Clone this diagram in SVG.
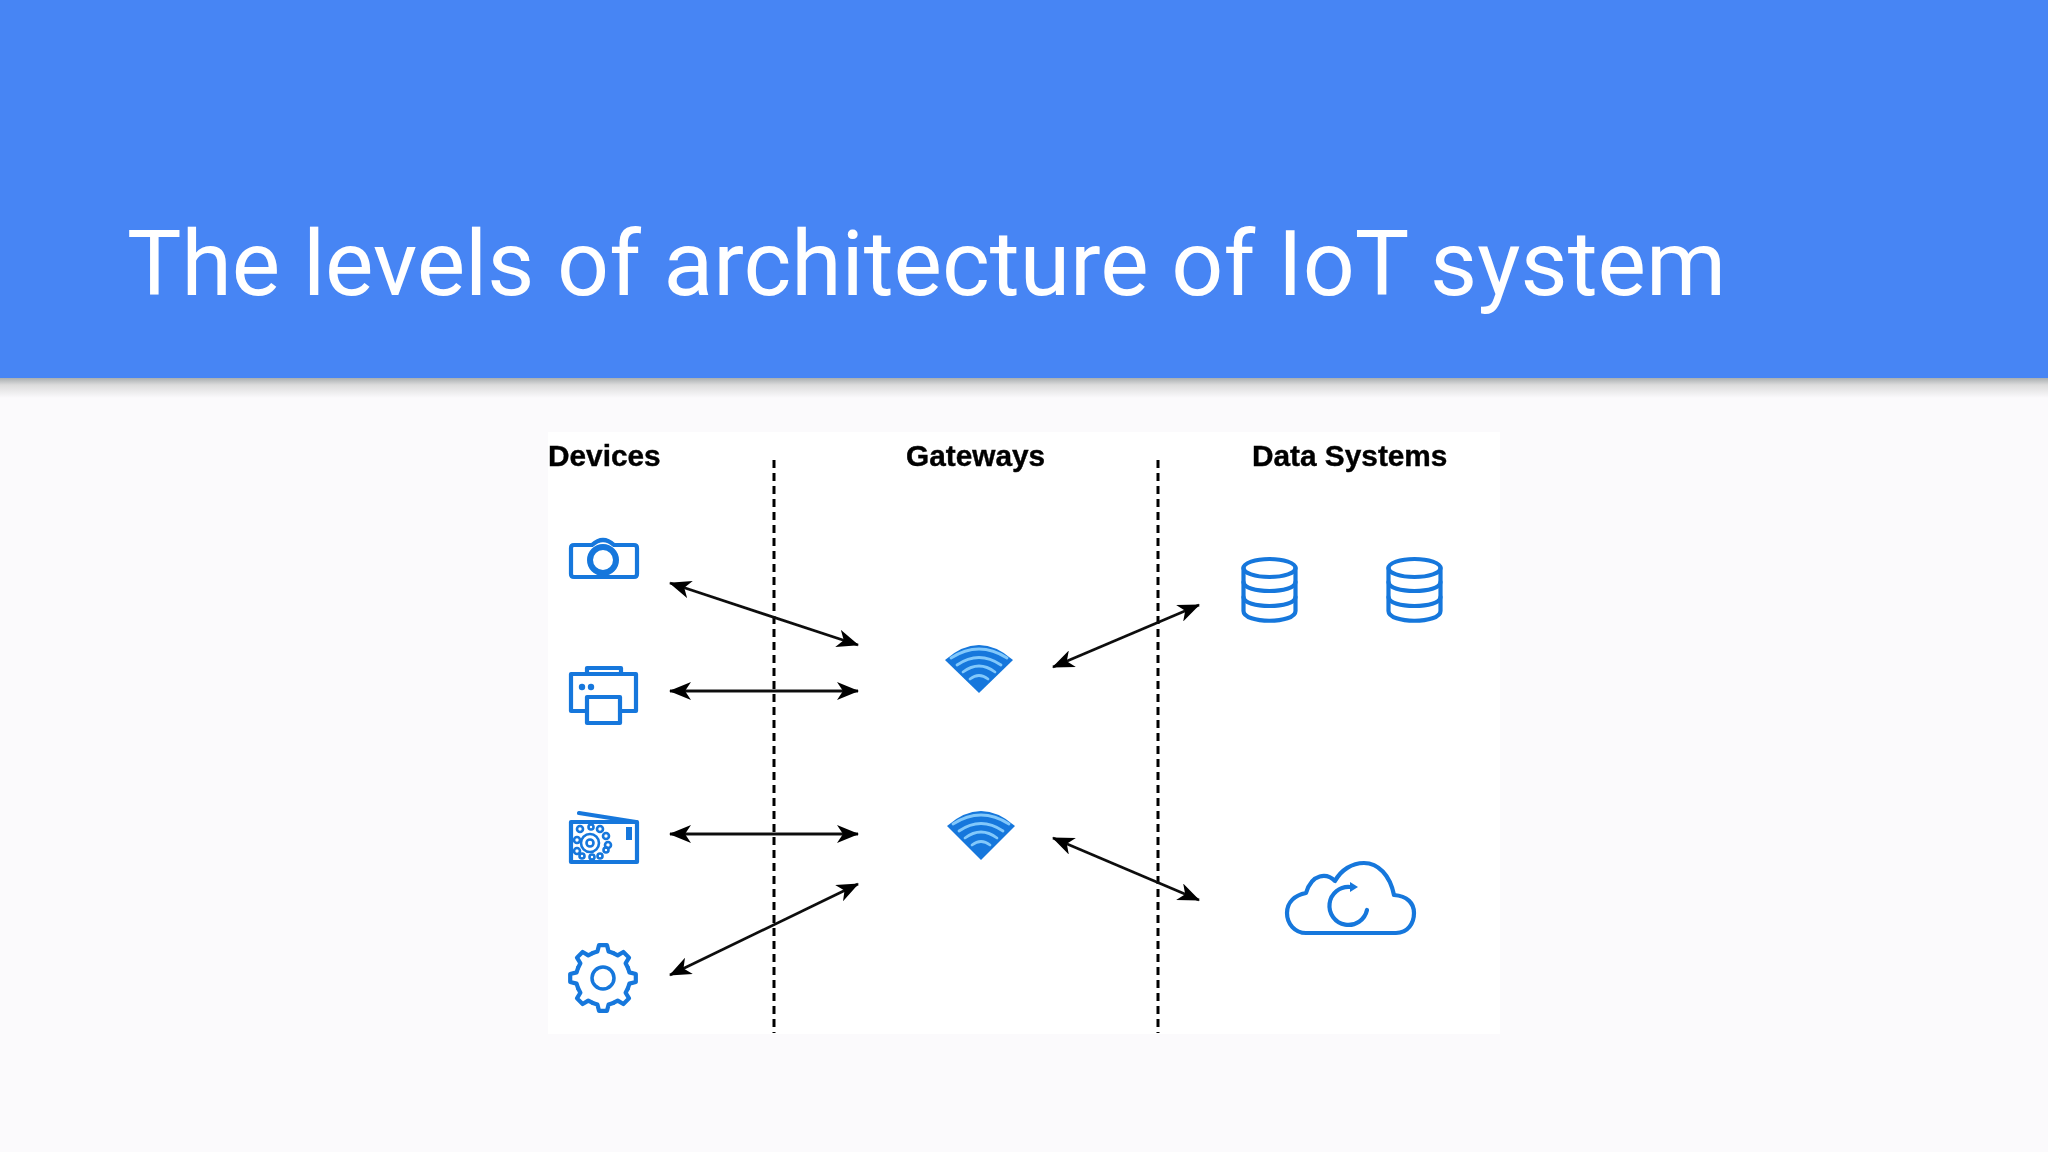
<svg xmlns="http://www.w3.org/2000/svg" width="2048" height="1152" viewBox="0 0 2048 1152">
<defs>
<linearGradient id="sh" x1="0" y1="0" x2="0" y2="1"><stop offset="0" stop-color="#a9aeb0"/><stop offset="0.35" stop-color="#dcdcdc"/><stop offset="1" stop-color="#fbfafc"/></linearGradient>
<marker id="ah" viewBox="0 0 22 18" refX="21" refY="9" markerWidth="22" markerHeight="18" markerUnits="userSpaceOnUse" orient="auto-start-reverse"><path d="M0 0L22 9L0 18L6 9Z" fill="#000"/></marker>
<filter id="soft" x="-5%" y="-5%" width="110%" height="110%"><feGaussianBlur stdDeviation="0.65"/></filter>
<path id="tooth" d="M-10.300 -24.900L-5.600 -26.400L-4 -32.800L4 -32.800L5.600 -26.400L10.300 -24.900"/>
</defs>
<style>
.ic{fill:none;stroke:#1477dc;stroke-width:4.2;stroke-linejoin:round;stroke-linecap:round}
.th{stroke-width:2.6}
.fl{fill:#1477dc;stroke:none}
.wf{fill:none;stroke:#82c8fb;stroke-width:2.8;stroke-linecap:round}
.lb{font-family:"Liberation Sans",Arial,sans-serif;font-weight:700;font-size:29.8px;fill:#050505;stroke:#050505;stroke-width:0.4}
.cn{fill:none;stroke:#111;stroke-width:2.8;marker-start:url(#ah);marker-end:url(#ah)}
.dv{fill:none;stroke:#000;stroke-width:3;stroke-dasharray:8 5}
</style>
<rect width="2048" height="1152" fill="#fbfafc"/>
<rect y="378" width="2048" height="20" fill="url(#sh)"/>
<rect width="2048" height="378" fill="#4785f4"/>
<text id="title" x="127" y="295" font-family="Roboto,sans-serif" font-weight="400" font-size="91.35" fill="#ffffff">The levels of architecture of IoT system</text>
<rect x="548" y="432" width="952" height="602" fill="#ffffff"/>
<g filter="url(#soft)">
<g id="dividers"><path class="dv" d="M774 460V1033"/><path class="dv" d="M1158 460V1033"/></g>
<g id="connectors">
<path class="cn" d="M670 583L858 645"/>
<path class="cn" d="M670 691H858"/>
<path class="cn" d="M670 834H858"/>
<path class="cn" d="M670 975L858 884"/>
<path class="cn" d="M1053 667L1199 605"/>
<path class="cn" d="M1053 838L1199 900"/>
</g>
<g id="label-devices"><text class="lb" x="548" y="466">Devices</text></g>
<g id="label-gateways"><text class="lb" x="906" y="466">Gateways</text></g>
<g id="label-data-systems"><text class="lb" x="1252" y="466">Data Systems</text></g>
<g id="camera"><path class="ic" d="M574 545H592Q603 535 614 545H634Q637 545 637 548V574Q637 577 634 577H574Q571 577 571 574V548Q571 545 574 545Z"/><circle class="ic" style="stroke-width:6" cx="603" cy="560" r="13"/></g>
<g id="printer"><path class="ic" d="M587 711H571V674H636V711H620"/><path class="ic" d="M587 673V668H621V673"/><rect class="ic" x="587" y="697" width="33" height="26"/><circle class="fl" cx="582" cy="687" r="3.200"/><circle class="fl" cx="591" cy="687" r="3.200"/></g>
<g id="radio"><path class="ic" d="M579 813L636 822"/><rect class="ic" x="571" y="822" width="66" height="40"/><rect class="fl" x="626" y="827" width="6" height="13"/>
<g class="ic th"><circle cx="590" cy="843" r="9"/><circle cx="590" cy="843" r="3.500"/><circle cx="580" cy="829" r="3"/><circle cx="591" cy="827" r="2.500"/><circle cx="600" cy="829" r="3"/><circle cx="606" cy="836" r="3"/><circle cx="608" cy="845" r="3"/><circle cx="606" cy="850" r="2.500"/><circle cx="577" cy="840" r="3"/><circle cx="577" cy="851" r="3"/><circle cx="582" cy="856" r="2.500"/><circle cx="592" cy="857" r="2.500"/><circle cx="600" cy="856" r="2.500"/></g></g>
<g id="gear"><circle class="ic" style="stroke-width:3.500" cx="603" cy="978" r="11"/>
<use href="#tooth" class="ic" transform="translate(603 978)"/>
<use href="#tooth" class="ic" transform="translate(603 978) rotate(45)"/>
<use href="#tooth" class="ic" transform="translate(603 978) rotate(90)"/>
<use href="#tooth" class="ic" transform="translate(603 978) rotate(135)"/>
<use href="#tooth" class="ic" transform="translate(603 978) rotate(180)"/>
<use href="#tooth" class="ic" transform="translate(603 978) rotate(225)"/>
<use href="#tooth" class="ic" transform="translate(603 978) rotate(270)"/>
<use href="#tooth" class="ic" transform="translate(603 978) rotate(315)"/></g>
<g id="wifi-1"><path class="fl" d="M945 660Q979 630 1013 660L979 693Z"/><path class="wf" d="M951 658Q979 640 1007 658"/><path class="wf" d="M957 665Q979 650 1001 665"/><path class="wf" d="M963 672Q979 660 995 672"/><path class="wf" d="M970 679Q979 672 988 679"/></g>
<g id="wifi-2"><path class="fl" d="M947 826Q981 796 1015 826L981 860Z"/><path class="wf" d="M953 824Q981 806 1009 824"/><path class="wf" d="M959 831Q981 816 1003 831"/><path class="wf" d="M965 838Q981 826 997 838"/><path class="wf" d="M972 845Q981 838 990 845"/></g>
<g id="database-1"><ellipse class="ic" cx="1269.500" cy="568" rx="26" ry="9"/><path class="ic" d="M1243.500 568V611C1243.500 624 1295.500 624 1295.500 611V568"/><path class="ic" d="M1243.500 582C1243.500 594 1295.500 594 1295.500 582"/><path class="ic" d="M1243.500 597C1243.500 609 1295.500 609 1295.500 597"/></g>
<g id="database-2"><ellipse class="ic" cx="1414.500" cy="568" rx="26" ry="9"/><path class="ic" d="M1388.500 568V611C1388.500 624 1440.500 624 1440.500 611V568"/><path class="ic" d="M1388.500 582C1388.500 594 1440.500 594 1440.500 582"/><path class="ic" d="M1388.500 597C1388.500 609 1440.500 609 1440.500 597"/></g>
<g id="cloud"><path class="ic" d="M1306 933H1396C1408 933 1414 923 1414 913C1414 903 1407 896 1394 895C1390 875 1378 863 1364 863C1352 863 1341 870 1335 881C1327 873 1312 873 1306 893C1295 895 1287 902 1287 913C1287 924 1295 933 1306 933Z"/><path class="ic" d="M1367 910A19 19 0 1 1 1350 887"/><path class="fl" d="M1350 882L1358 887L1350 892Z"/></g>
</g>
</svg>
